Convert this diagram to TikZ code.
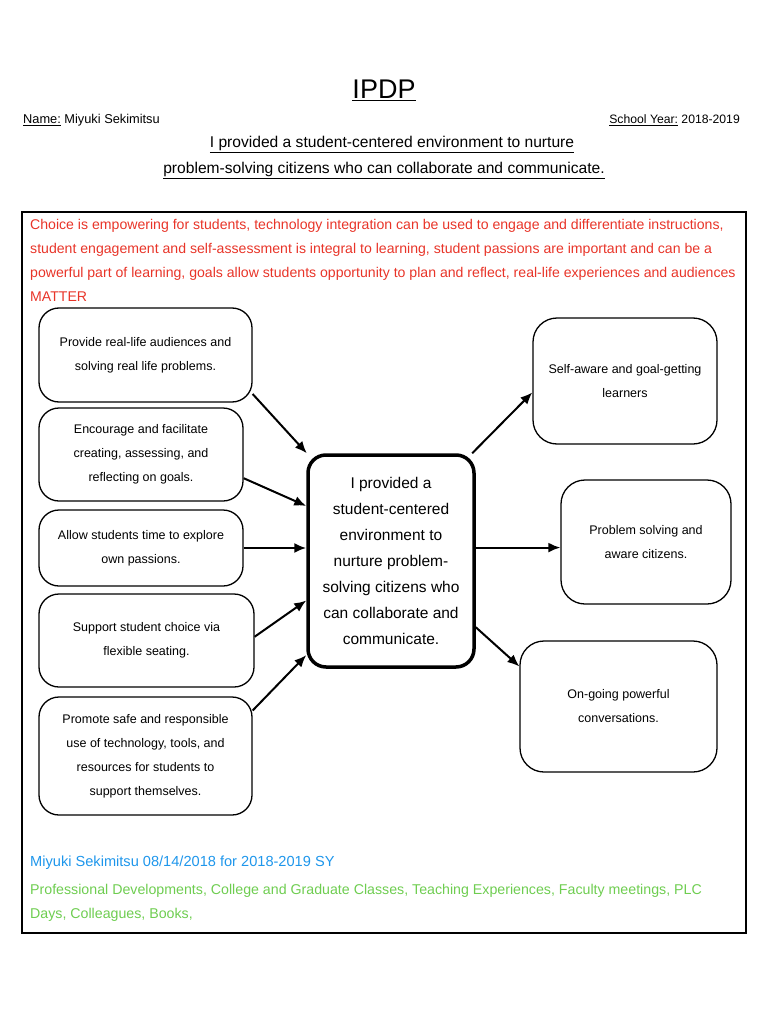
\documentclass[tikz,border=0pt]{standalone}
\usepackage{fontspec}
\setmainfont{Liberation Sans}
\usetikzlibrary{arrows.meta}
\definecolor{notered}{RGB}{232,52,40}
\definecolor{noteblue}{RGB}{30,150,235}
\definecolor{notegreen}{RGB}{110,205,80}
\begin{document}
\begin{tikzpicture}[x=1pt,y=-1pt,
    goal/.style={draw, line width=1.3pt, rounded corners=20pt, align=center, inner sep=0pt,
      font=\fontsize{12.5}{24}\selectfont},
    link/.style={-{Latex[length=12pt,width=10pt]}, line width=2pt}]
    \useasboundingbox (0,0) rectangle (768,1024);
    \node[anchor=base, inner sep=0pt] (title) at (384,99) {\fontsize{27}{30}\selectfont\underline{IPDP}};
    \node[anchor=base west, inner sep=0pt, font=\fontsize{12.8}{14}\selectfont] (name) at (23,124) {\underline{Name:} Miyuki Sekimitsu};
    \node[anchor=base east, inner sep=0pt, font=\fontsize{12.2}{14}\selectfont] (year) at (740,124) {\underline{School Year:} 2018-2019};
    \node[anchor=base, inner sep=0pt, font=\fontsize{15.6}{16}\selectfont] (aim1) at (392,148) {\underline{I provided a student-centered environment to nurture}};
    \node[anchor=base, inner sep=0pt, font=\fontsize{15.6}{16}\selectfont] (aim2) at (384,174) {\underline{problem-solving citizens who can collaborate and communicate.}};
    \draw[line width=2.5pt] (22,212) rectangle (746,933);
    \node[anchor=north west, align=left, inner sep=0pt, text=notered, font=\fontsize{14.1}{24}\selectfont] (belief) at (30,219)
      {Choice is empowering for students, technology integration can be used to engage and differentiate instructions,\\
       student engagement and self-assessment is integral to learning, student passions are important and can be a\\
       powerful part of learning, goals allow students opportunity to plan and reflect, real-life experiences and audiences\\
       MATTER};
    % strategies
    \node[goal, minimum width=213pt, minimum height=94pt] (b1) at (145.5,355) {Provide real-life audiences and\\solving real life problems.};
    \node[goal, minimum width=204pt, minimum height=93pt] (b2) at (141,454.5) {Encourage and facilitate\\creating, assessing, and\\reflecting on goals.};
    \node[goal, minimum width=204pt, minimum height=76pt] (b3) at (141,548) {Allow students time to explore\\own passions.};
    \node[goal, minimum width=215pt, minimum height=93pt] (b4) at (146.5,640.5) {Support student choice via\\flexible seating.};
    \node[goal, minimum width=213pt, minimum height=118pt] (b5) at (145.5,756) {Promote safe and responsible\\use of technology, tools, and\\resources for students to\\support themselves.};
    % goal
    \node[goal, line width=3.5pt, rounded corners=18pt, minimum width=166pt, minimum height=212pt,
      font=\fontsize{15.5}{26}\selectfont] (c) at (391,561)
      {I provided a\\student-centered\\environment to\\nurture problem-\\solving citizens who\\can collaborate and\\communicate.};
    % outcomes
    \node[goal, rounded corners=24pt, minimum width=184pt, minimum height=126pt] (r1) at (625,381) {Self-aware and goal-getting\\learners};
    \node[goal, rounded corners=24pt, minimum width=170pt, minimum height=124pt] (r2) at (646,542) {Problem solving and\\aware citizens.};
    \node[goal, rounded corners=24pt, minimum width=197pt, minimum height=131pt] (r3) at (618.5,706.5) {On-going powerful\\conversations.};
    \draw[link] (b1.-20) -- (c.128);
    \draw[link] (b2.-13) -- (c.147);
    \draw[link] (b3.east) -- (b3.east -| c.west);
    \draw[link] (b4.2) -- (c.-155);
    \draw[link] (b5.23) -- (c.-132);
    \draw[link] (c.53) -- (r1.187);
    \draw[link] (c.9) -- (c.9 -| r2.west);
    \draw[link] (c.-38) -- (r3.158);
    \node[anchor=north west, inner sep=0pt, text=noteblue, font=\fontsize{14.6}{24}\selectfont] (sign) at (30,856)
      {Miyuki Sekimitsu 08/14/2018 for 2018-2019 SY};
    \node[anchor=north west, align=left, inner sep=0pt, text=notegreen, font=\fontsize{14.2}{24}\selectfont] (sources) at (30,884)
      {Professional Developments, College and Graduate Classes, Teaching Experiences, Faculty meetings, PLC\\
       Days, Colleagues, Books,};
\end{tikzpicture}
\end{document}
